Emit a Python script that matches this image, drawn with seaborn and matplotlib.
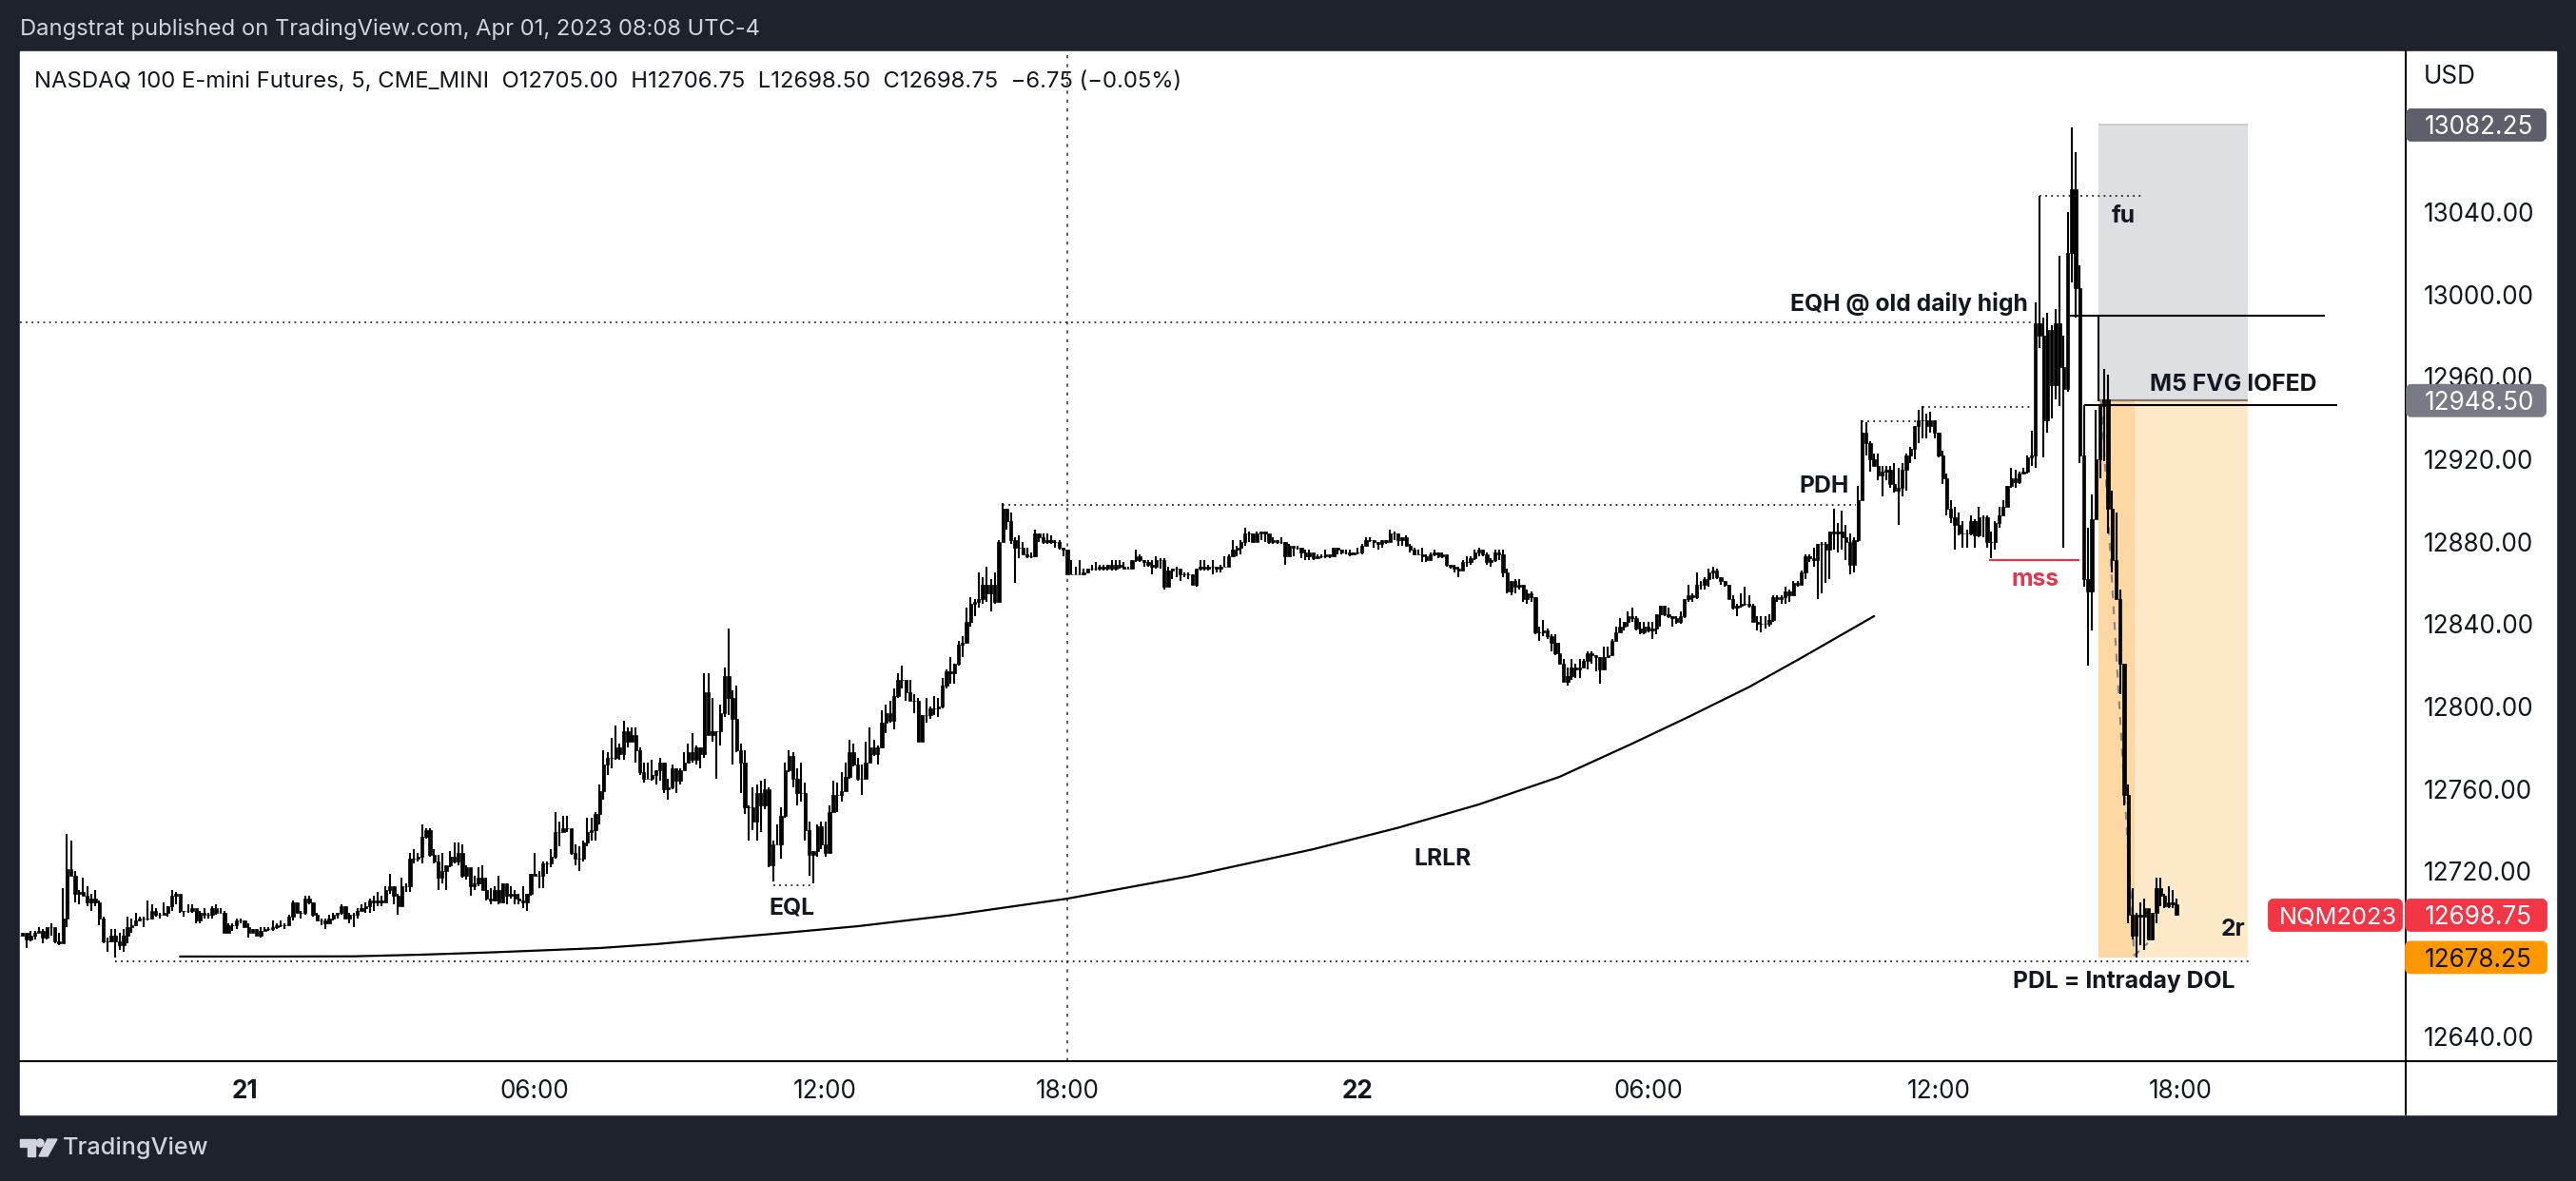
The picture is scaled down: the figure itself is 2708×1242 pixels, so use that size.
import pandas as pd
import matplotlib.pyplot as plt
import seaborn as sns
from matplotlib.lines import Line2D
from matplotlib.patches import Rectangle, FancyBboxPatch, Polygon, Circle
from matplotlib.transforms import IdentityTransform

# 5 minute bars
closes = [
    12689,12690,12687,12689,12690,12691,12688,12693,12693,12686,
    12685,12697,12721,12718,12709,12710,12708,12705,12707,12705,
    12697,12686,12686,12689,12686,12684,12689,12693,12694,12696,
    12697,12697,12697,12701,12699,12699,12700,12703,12708,12709,
    12701,12701,12701,12702,12696,12700,12699,12699,12702,12700,
    12700,12690,12694,12694,12696,12696,12693,12690,12692,12689,
    12691,12692,12692,12693,12694,12694,12694,12698,12705,12700,
    12700,12707,12705,12699,12696,12696,12695,12697,12699,12700,
    12703,12697,12699,12699,12701,12702,12703,12706,12705,12706,
    12705,12711,12713,12708,12703,12713,12713,12726,12726,12727,
    12737,12740,12728,12725,12717,12720,12723,12727,12725,12729,
    12718,12722,12713,12714,12717,12711,12707,12706,
    12711,12705,12714,12708,12709,12707,12706,12705,12709,12719,
    12718,12718,12724,12724,12727,12739,12739,12741,12741,12729,
    12726,12726,12734,12739,12740,12748,12759,12772,12775,12775,
    12780,12777,12788,12783,12786,12779,12768,12765,12765,12767,
    12769,12773,12760,12761,12770,12764,12769,12773,12778,12774,
    12780,12777,12807,12786,12788,12788,12797,12815,12804,12794,
    12779,12773,12751,12751,12744,12758,12752,12760,12723,12733,
    12733,12747,12769,12776,12765,12758,12758,12740,12728,12730,
    12742,12733,12729,12749,12757,12757,12759,12766,12778,12772,
    12765,12765,12773,12780,12777,12780,12792,12797,12793,12805,
    12813,12813,12807,12803,12803,12783,12796,12796,12799,12799,
    12800,12810,12817,12816,12821,12830,12831,12841,
    12850,12851,12852,12859,12855,12859,12851,12880,12896,12890,
    12881,12877,12877,12874,12873,12873,12884,12882,12880,12881,
    12880,12880,12877,12876,12864,12864,12864,12864,12865,12867,
    12867,12867,12868,12867,12869,12867,12869,12868,12867,12867,
    12871,12873,12871,12870,12869,12868,12871,12871,12858,12866,
    12867,12867,12864,12864,12864,12859,12867,12868,12867,12868,
    12868,12867,12868,12868,12873,12876,12877,12880,12884,12884,
    12880,12884,12885,12884,12880,12881,12880,12880,12873,12878,12877,
    12877,12875,12873,12875,12872,12873,12873,12874,12873,12877,
    12876,12875,12875,12874,12875,12875,12878,12881,12881,12880,
    12879,12881,12880,12884,12884,12881,12882,12878,12876,12874,
    12874,12873,12871,12874,12875,12873,12874,12869,12868,12867,
    12866,12870,12870,12872,12875,12876,12874,12870,12871,12875,
    12874,12865,12856,12861,12858,12859,12852,12855,12853,12836,
    12836,12837,12834,12831,12826,12821,12812,12815,12819,12818,
    12819,12822,12826,12825,12824,12818,12824,12825,12832,12836,
    12839,12841,12844,12843,12838,12836,12839,12837,12838,12845,
    12849,12845,12844,12843,12841,12844,12852,12854,12853,12859,
    12859,12862,12865,12866,12863,12861,12859,12852,12848,12849,
    12850,12850,12849,
    12841,12840,12840,12840,12842,12853,12852,12853,12856,12854,
    12860,12859,12865,12873,12872,12871,12879,12879,12876,12885,
    12884,12885,12882,12880,12869,12881,12900,12933,12928,12920,
    12917,12912,12914,12915,12908,12905,12906,12915,12922,12925,
    12936,12939,12939,12936,12939,12933,12922,12911,12896,12892,
    12888,12884,12884,12884,12890,12883,12892,12892,12880,12880,
    12889,12893,12897,12907,12911,12909,12913,12914,12921,12922,
    12986,12980,12939,12983,12956,12986,12965,12954,13020,13051,
    13003,12922,12862,12856,12891,12920,12946,12949,12896,12871,
    12852,12821,12757,12699,12689,12699,12698,12702,12687,12700,
    12712,12708,12703,12705,12704,12698.75,
]
highs = [
    12693,12690,12690,12691,12691,12693,12692,12693,12695,12692,
    12690,12712,12738,12735,12720,12711,12717,12713,12709,12711,
    12706,12698,12688,12692,12692,12690,12692,12698,12697,12700,
    12698,12698,12706,12704,12702,12700,12705,12703,12711,12710,
    12705,12701,12704,12704,12701,12701,12702,12700,12703,12704,
    12702,12701,12695,12695,12697,12697,12696,12695,12692,12692,
    12693,12693,12693,12696,12695,12696,12695,12699,12706,12705,
    12701,12708,12708,12705,12700,12697,12697,12699,12700,12700,
    12704,12703,12700,12700,12702,12704,12705,12707,12708,12710,
    12708,12713,12719,12713,12709,12717,12714,12729,12731,12729,
    12743,12741,12741,12731,12728,12729,12723,12730,12734,12734,
    12733,12723,12719,12718,12722,12723,12717,12712,
    12713,12718,12714,12714,12713,12711,12709,12713,12709,12719,
    12729,12720,12725,12725,12731,12749,12744,12747,12747,12740,
    12733,12732,12735,12746,12746,12749,12762,12779,12778,12785,
    12791,12782,12793,12790,12790,12790,12780,12773,12773,12774,
    12769,12775,12773,12765,12772,12770,12770,12778,12782,12787,
    12781,12780,12816,12816,12804,12788,12801,12819,12838,12808,
    12810,12782,12779,12752,12761,12762,12764,12765,12761,12735,
    12743,12751,12773,12779,12778,12770,12773,12763,12744,12730,
    12743,12744,12744,12752,12764,12763,12768,12773,12784,12782,
    12775,12772,12783,12790,12784,12781,12798,12801,12803,12809,
    12816,12820,12813,12813,12806,12804,12796,12804,12800,12805,
    12804,12814,12818,12824,12821,12832,12834,12848,
    12853,12852,12865,12863,12868,12862,12865,12881,12899,12896,
    12894,12882,12883,12880,12877,12875,12886,12884,12884,12884,
    12883,12881,12881,12877,12874,12871,12868,12871,12867,12867,
    12869,12870,12869,12869,12869,12871,12871,12871,12870,12868,
    12871,12876,12874,12871,12871,12871,12873,12872,12872,12868,
    12867,12868,12866,12865,12865,12864,12867,12871,12871,12869,
    12871,12868,12869,12873,12874,12881,12878,12881,12887,12885,
    12884,12885,12885,12885,12883,12882,12881,12882,12880,12879,12877,
    12878,12877,12876,12876,12874,12874,12874,12876,12874,12877,
    12877,12876,12876,12876,12875,12877,12879,12882,12882,12881,
    12880,12881,12881,12886,12885,12884,12882,12883,12879,12877,
    12876,12877,12874,12875,12876,12875,12875,12873,12869,12869,
    12868,12871,12873,12873,12876,12877,12876,12875,12872,12876,
    12876,12876,12867,12861,12862,12862,12859,12857,12856,12853,
    12839,12842,12838,12835,12835,12831,12823,12819,12823,12821,
    12823,12823,12827,12827,12825,12824,12829,12829,12833,12839,
    12843,12841,12846,12848,12844,12841,12841,12841,12841,12845,
    12849,12849,12848,12844,12844,12846,12852,12859,12855,12865,
    12861,12863,12867,12868,12867,12863,12861,12859,12854,12850,
    12855,12858,12854,
    12850,12844,12844,12844,12845,12854,12854,12854,12858,12857,
    12861,12861,12866,12874,12874,12877,12879,12880,12880,12885,
    12896,12889,12895,12888,12884,12882,12907,12939,12938,12929,
    12923,12923,12917,12917,12917,12918,12916,12918,12923,12926,
    12936,12944,12946,12942,12943,12939,12933,12924,12913,12900,
    12897,12894,12890,12886,12893,12891,12897,12893,12893,12885,
    12890,12897,12900,12907,12916,12915,12914,12916,12922,12934,
    12996,13048,12989,12991,12985,12993,13019,12980,13040,13081,
    13069,13014,12922,12887,12903,12944,12946,12964,12961,12905,
    12894,12857,12821,12762,12712,12700,12705,12707,12701,12700,
    12717,12717,12709,12713,12711,12706.75,
]
lows = [
    12688,12689,12683,12686,12687,12690,12685,12687,12689,12685,
    12684,12689,12693,12718,12705,12704,12708,12703,12701,12703,
    12694,12685,12681,12686,12678,12682,12681,12685,12690,12695,
    12696,12693,12696,12697,12698,12697,12699,12698,12701,12704,
    12700,12698,12700,12700,12695,12695,12697,12697,12697,12699,
    12700,12690,12691,12691,12692,12695,12693,12688,12690,12689,
    12688,12691,12691,12691,12692,12693,12692,12694,12696,12700,
    12697,12699,12704,12698,12696,12694,12692,12696,12696,12697,
    12699,12697,12695,12693,12697,12701,12700,12700,12701,12703,
    12703,12705,12709,12704,12699,12703,12710,12710,12724,12725,
    12724,12736,12727,12724,12711,12714,12711,12722,12724,12723,
    12717,12716,12708,12711,12713,12711,12706,12704,
    12706,12704,12707,12704,12707,12704,12704,12702,12701,12708,
    12718,12712,12712,12719,12722,12726,12732,12740,12739,12728,
    12723,12720,12725,12732,12735,12735,12743,12755,12767,12770,
    12774,12774,12774,12780,12783,12773,12767,12763,12765,12764,
    12762,12764,12758,12755,12760,12758,12762,12769,12773,12773,
    12772,12770,12775,12786,12783,12765,12781,12795,12796,12772,
    12778,12758,12748,12735,12740,12735,12739,12750,12722,12715,
    12733,12726,12746,12768,12761,12752,12754,12735,12718,12714,
    12727,12731,12727,12729,12749,12749,12754,12759,12765,12771,
    12764,12757,12765,12773,12776,12772,12780,12787,12792,12789,
    12804,12809,12803,12803,12797,12783,12783,12792,12794,12796,
    12795,12799,12809,12811,12811,12820,12824,12831,
    12839,12844,12848,12850,12851,12846,12850,12851,12880,12886,
    12879,12860,12872,12874,12872,12872,12873,12880,12879,12879,
    12879,12877,12876,12873,12864,12864,12864,12864,12864,12865,
    12866,12866,12866,12866,12866,12866,12866,12867,12867,12867,
    12867,12870,12870,12868,12868,12864,12867,12867,12857,12858,
    12862,12863,12861,12863,12862,12859,12858,12866,12866,12866,
    12864,12865,12865,12868,12868,12873,12873,12874,12878,12880,
    12880,12881,12881,12880,12879,12879,12879,12879,12869,12873,12873,
    12876,12872,12871,12871,12871,12872,12872,12872,12872,12873,
    12874,12874,12874,12873,12874,12874,12874,12878,12880,12877,
    12876,12877,12879,12880,12881,12878,12878,12878,12875,12874,
    12874,12870,12870,12871,12873,12872,12872,12868,12867,12865,
    12863,12866,12868,12869,12871,12873,12873,12869,12868,12870,
    12871,12863,12855,12854,12855,12857,12851,12850,12851,12835,
    12832,12834,12833,12827,12825,12821,12812,12810,12813,12814,
    12814,12819,12818,12821,12817,12811,12823,12824,12825,12832,
    12837,12837,12839,12841,12837,12835,12835,12836,12833,12835,
    12839,12844,12843,12839,12840,12840,12843,12851,12851,12852,
    12857,12857,12858,12862,12862,12859,12858,12852,12847,12844,
    12848,12849,12848,
    12841,12837,12836,12838,12839,12841,12851,12850,12850,12851,
    12854,12858,12859,12862,12870,12868,12852,12855,12860,12862,
    12876,12875,12876,12871,12864,12865,12880,12900,12922,12914,
    12917,12910,12902,12910,12906,12904,12888,12902,12905,12918,
    12920,12928,12930,12930,12933,12930,12921,12908,12893,12889,
    12876,12883,12877,12877,12883,12877,12882,12882,12877,12872,
    12876,12887,12893,12897,12906,12906,12908,12913,12913,12917,
    12916,12974,12921,12933,12940,12949,12946,12877,12953,13006,
    12989,12918,12858,12820,12837,12891,12911,12919,12884,12865,
    12852,12806,12752,12695,12687,12678,12684,12682,12687,12687,
    12695,12703,12702,12702,12702,12698.5,
]

# the LRLR curve, bar number and price
curve_bars = [40, 62, 83, 100, 117, 130, 144, 158, 171, 190, 208, 231, 260, 290, 321, 342,
              362, 382, 400, 414, 429, 442, 460]
curve_prices = [12678.7, 12678.7, 12678.8, 12679.6, 12680.7, 12681.7, 12682.8, 12684.7, 12687,
                12690.2, 12693.4, 12698.7, 12706.8, 12717.6, 12730.8, 12741.2, 12752.5,
                12765.9, 12782, 12795, 12809.5, 12823.7, 12843.9]

price_ticks = [12640, 12720, 12760, 12800, 12840, 12880, 12920, 12960, 13000, 13040]
price_labels = [f"{p}.00" for p in price_ticks]

time_ticks = [56, 128, 200, 260, 332, 404, 476, 536]
time_labels = ["21", "06:00", "12:00", "18:00", "22", "06:00", "12:00", "18:00"]

stop_price = 13082.25
entry_price = 12948.5
target_price = 12678.25
last_price = 12698.75
box_left = 515.7
box_mid = 524.5
box_right = 552.7

W, H = 2708, 1242
AXIS_Y = 1116
PANEL_BOTTOM = 1172
BG = "#1e222d"
TEXT = "#131722"

sns.set_theme(style="white")
plt.rcParams["font.family"] = "Inter"

fig = plt.figure(figsize=(W / 100, H / 100), dpi=100, facecolor=BG)
fig.add_artist(Rectangle((21 / W, 1 - PANEL_BOTTOM / H), (2687 - 21) / W, (PANEL_BOTTOM - 54) / H,
                         transform=fig.transFigure, color="white", zorder=-1))
ax = fig.add_axes([21 / W, 1 - AXIS_Y / H, (2529 - 21) / W, (AXIS_Y - 54) / H])
ax.set_xlim(0.33, 591.8)
ax.set_ylim(12627.9, 13118)

df = pd.DataFrame({"close": closes, "high": highs, "low": lows})
df["open"] = df["close"].shift(1).fillna(df["close"])
df["bottom"] = df[["open", "close"]].min(axis=1)
df["height"] = (df["open"] - df["close"]).abs()

# position tool boxes
ax.fill_between([box_left, box_right], entry_price, stop_price, color="#dedfe2", lw=0, zorder=1)
ax.fill_between([box_left, box_right], target_price, entry_price, color="#fee9c9", lw=0, zorder=1)
ax.fill_between([box_left, box_mid], target_price, entry_price, color="#fdd8a2", lw=0, zorder=1)
ax.hlines(stop_price, box_left, box_right, color="#c6c7cb", lw=1.2, zorder=2)
ax.hlines(entry_price, box_left, box_right, color="#85786a", lw=1.6, zorder=2)
ax.plot([box_left + 0.6, box_mid, box_mid + 3.4], [entry_price, target_price + 1, target_price + 7],
        color="#85868c", lw=1.5, ls=(0, (4, 4)), zorder=2)

# candles, up and down are both black here
ax.vlines(df.index, df["low"], df["high"], color="black", lw=1.5, zorder=3)
ax.bar(df.index, df["height"], bottom=df["bottom"], width=0.78, color="black",
       edgecolor="black", lw=0.5, zorder=3)

sns.lineplot(x=curve_bars, y=curve_prices, color="black", lw=1.6, ax=ax, zorder=4)

# crosshair and drawn levels
dots = (0, (1, 2.4))
ax.axvline(260, color="#444444", lw=1.2, ls=(0, (2, 3.6)), zorder=2)
ax.hlines(12986.7, 0.33, 499.5, color="#333333", lw=1.3, ls=dots, zorder=2)
ax.hlines(12676.5, 24, 553, color="#222222", lw=1.3, ls=dots, zorder=4)
ax.hlines(12713.5, 187, 197, color="#222222", lw=1.3, ls=dots, zorder=4)
ax.hlines(12898, 244, 455.5, color="#222222", lw=1.3, ls=dots, zorder=4)
ax.hlines(12938.5, 457, 470.6, color="#222222", lw=1.3, ls=dots, zorder=4)
ax.hlines(12945.5, 472, 499.4, color="#222222", lw=1.3, ls=dots, zorder=4)
ax.hlines(13048, 501, 526.7, color="#222222", lw=1.3, ls=dots, zorder=4)
ax.hlines(12871.3, 488.5, 511, color="#e2374e", lw=1.6, zorder=4)
ax.hlines(12989.7, 508.6, 571.8, color="black", lw=1.5, zorder=4)
ax.vlines(515.7, 12948, 12989.7, color="black", lw=1.5, zorder=4)
ax.hlines(12946.3, 512, 574.8, color="black", lw=1.5, zorder=4)
ax.vlines(512, 12922, 12946.3, color="black", lw=1.5, zorder=4)

ax.yaxis.tick_right()
ax.set_yticks(price_ticks)
ax.set_yticklabels(price_labels, fontsize=18.8, color=TEXT)
ax.set_xticks(time_ticks)
ax.set_xticklabels(time_labels, fontsize=18.8, color=TEXT)
for lab, name in zip(ax.get_xticklabels(), time_labels):
    if ":" not in name:
        lab.set_fontweight("bold")
ax.tick_params(axis="y", length=0, pad=13.5)
ax.tick_params(axis="x", length=0, pad=14)
ax.grid(False)
for side in ["top", "left"]:
    ax.spines[side].set_visible(False)
for side in ["right", "bottom"]:
    ax.spines[side].set_color("black")
    ax.spines[side].set_linewidth(1.5)

# axis lines carried on through the side panels
fig.add_artist(Line2D([2529 / W, 2687 / W], [1 - AXIS_Y / H] * 2, color="black", lw=1.5))
fig.add_artist(Line2D([2529 / W, 2529 / W], [1 - PANEL_BOTTOM / H, 1 - AXIS_Y / H], color="black", lw=1.5))


def put_text(x, y, s, size=17.8, weight="bold", color=TEXT, ha="center"):
    fig.text(x / W, 1 - y / H, s, fontsize=size, fontweight=weight, color=color,
             ha=ha, va="center", zorder=6)


put_text(832, 955, "EQL")
put_text(1516, 903, "LRLR")
put_text(1917, 511, "PDH")
put_text(2007, 319.6, "EQH @ old daily high")
put_text(2232, 227, "fu")
put_text(2348, 404.6, "M5 FVG IOFED")
put_text(2139, 610, "mss", color="#e2374e")
put_text(2347, 978, "2r")
put_text(2233, 1033, "PDL = Intraday DOL")

put_text(21, 31, "Dangstrat published on TradingView.com, Apr 01, 2023 08:08 UTC-4",
         size=17.1, weight="normal", color="#d1d4dc", ha="left")
put_text(36, 86, "NASDAQ 100 E-mini Futures, 5, CME_MINI  O12705.00  H12706.75  L12698.50  C12698.75  −6.75 (−0.05%)",
         size=17.2, weight="normal", ha="left")
put_text(2548, 81, "USD", size=18.8, weight="normal", ha="left")


def price_y(price):
    return ax.transData.transform((0, price))[1]


def price_tag(price, x0, x1, color, s, text_color="white", text_x=2549, size=18.8):
    y = price_y(price)
    fig.add_artist(FancyBboxPatch((x0 + 3, y - 14.5), x1 - x0 - 6, 29,
                                  boxstyle="round,pad=0,rounding_size=3", mutation_aspect=1,
                                  ec=color, fc=color, lw=4.2, transform=IdentityTransform(), zorder=5))
    fig.text(text_x / W, y / H, s, fontsize=size, color=text_color, ha="left", va="center_baseline", zorder=6)


price_tag(stop_price, 2529, 2677, "#5d606b", "13082.25")
price_tag(entry_price, 2529, 2677, "#787b86", "12948.50")
price_tag(last_price, 2528, 2678, "#f23645", "12698.75")
price_tag(last_price, 2384, 2526, "#f23645", "NQM2023", text_x=2396, size=18.3)
price_tag(target_price, 2528, 2678, "#ff9800", "12678.25", text_color=TEXT)

# TradingView logo and name in the footer
logo = "#d1d4dc"
fig.add_artist(Polygon([(21, H - 1198), (37, H - 1198), (37, H - 1216), (29, H - 1216), (29, H - 1206), (21, H - 1206)],
                       closed=True, color=logo, transform=IdentityTransform()))
fig.add_artist(Circle((42, H - 1202), 4, color=logo, transform=IdentityTransform()))
fig.add_artist(Polygon([(50, H - 1198), (60, H - 1198), (50, H - 1216), (41, H - 1216)],
                       closed=True, color=logo, transform=IdentityTransform()))
put_text(66, 1207, "TradingView", size=18.2, weight="medium", color=logo, ha="left")

fig.savefig("out.png", dpi=100, facecolor=BG)
